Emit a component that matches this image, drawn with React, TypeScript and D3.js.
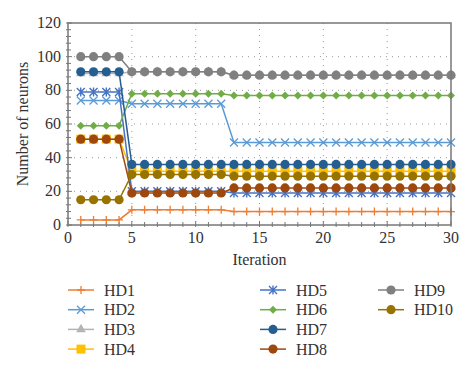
import * as d3 from "d3";

const ITERATIONS = d3.range(1, 31);

const HD1 = [3, 3, 3, 3, 9, 9, 9, 9, 9, 9, 9, 9, 8, 8, 8, 8, 8, 8, 8, 8, 8, 8, 8, 8, 8, 8, 8, 8, 8, 8];
const HD2 = [74, 74, 74, 74, 72, 72, 72, 72, 72, 72, 72, 72, 49, 49, 49, 49, 49, 49, 49, 49, 49, 49, 49, 49, 49, 49, 49, 49, 49, 49];
const HD3 = [90, 90, 90, 90, 91, 91, 91, 91, 91, 91, 91, 91, 89, 89, 89, 89, 89, 89, 89, 89, 89, 89, 89, 89, 89, 89, 89, 89, 89, 89];
const HD4 = [51, 51, 51, 51, 32, 32, 32, 32, 32, 32, 32, 32, 32, 32, 32, 32, 32, 32, 32, 32, 32, 32, 32, 32, 32, 32, 32, 32, 32, 32];
const HD5 = [79, 79, 79, 79, 20, 20, 20, 20, 20, 20, 20, 20, 19, 19, 19, 19, 19, 19, 19, 19, 19, 19, 19, 19, 19, 19, 19, 19, 19, 19];
const HD6 = [59, 59, 59, 59, 78, 78, 78, 78, 78, 78, 78, 78, 77, 77, 77, 77, 77, 77, 77, 77, 77, 77, 77, 77, 77, 77, 77, 77, 77, 77];
const HD7 = [91, 91, 91, 91, 36, 36, 36, 36, 36, 36, 36, 36, 36, 36, 36, 36, 36, 36, 36, 36, 36, 36, 36, 36, 36, 36, 36, 36, 36, 36];
const HD8 = [51, 51, 51, 51, 19, 19, 19, 19, 19, 19, 19, 19, 22, 22, 22, 22, 22, 22, 22, 22, 22, 22, 22, 22, 22, 22, 22, 22, 22, 22];
const HD9 = [100, 100, 100, 100, 91, 91, 91, 91, 91, 91, 91, 91, 89, 89, 89, 89, 89, 89, 89, 89, 89, 89, 89, 89, 89, 89, 89, 89, 89, 89];
const HD10 = [15, 15, 15, 15, 30, 30, 30, 30, 30, 30, 30, 30, 29, 29, 29, 29, 29, 29, 29, 29, 29, 29, 29, 29, 29, 29, 29, 29, 29, 29];

const X_TICKS = [0, 5, 10, 15, 20, 25, 30];
const Y_TICKS = [0, 20, 40, 60, 80, 100, 120];

type Marker = "plus" | "x" | "triangle" | "square" | "star" | "diamond" | "circle";

const SERIES: { name: string; values: number[]; color: string; marker: Marker }[] = [
  { name: "HD1", values: HD1, color: "#ED7D31", marker: "plus" },
  { name: "HD2", values: HD2, color: "#5B9BD5", marker: "x" },
  { name: "HD3", values: HD3, color: "#B4B4B4", marker: "triangle" },
  { name: "HD4", values: HD4, color: "#FFC000", marker: "square" },
  { name: "HD5", values: HD5, color: "#4472C4", marker: "star" },
  { name: "HD6", values: HD6, color: "#70AD47", marker: "diamond" },
  { name: "HD7", values: HD7, color: "#255E91", marker: "circle" },
  { name: "HD8", values: HD8, color: "#9E480E", marker: "circle" },
  { name: "HD9", values: HD9, color: "#808080", marker: "circle" },
  { name: "HD10", values: HD10, color: "#997300", marker: "circle" },
];

const W = 474;
const H = 371;
const M = { left: 68, right: 451, top: 23, bottom: 225 };
const FONT = "'Liberation Serif', 'Times New Roman', serif";
const AXIS = "#777";

function MarkerShape({ type, color, x, y }: { type: Marker; color: string; x: number; y: number }) {
  const t = `translate(${x},${y})`;
  switch (type) {
    case "plus":
      return <path transform={t} d="M-4,0H4M0,-4V4" stroke={color} strokeWidth={1.3} />;
    case "x":
      return <path transform={t} d="M-4,-4L4,4M-4,4L4,-4" stroke={color} strokeWidth={1.3} />;
    case "star":
      return <path transform={t} d="M-4,-4L4,4M-4,4L4,-4M0,-4.5V4.5" stroke={color} strokeWidth={1.4} />;
    case "triangle":
      return <path transform={t} d={d3.symbol(d3.symbolTriangle, 40)() ?? ""} fill={color} />;
    case "square":
      return <rect x={x - 4.5} y={y - 4.5} width={9} height={9} fill={color} />;
    case "diamond":
      return <path transform={t} d="M0,-4L4,0L0,4L-4,0Z" fill={color} />;
    default:
      return <circle cx={x} cy={y} r={4.6} fill={color} />;
  }
}

export default function App() {
  const x = d3.scaleLinear().domain([0, 30]).range([M.left, M.right]);
  const y = d3.scaleLinear().domain([0, 120]).range([M.bottom, M.top]);
  const line = d3
    .line<number>()
    .x((_, i) => x(ITERATIONS[i]))
    .y((d) => y(d));

  const xMinor = d3.range(0, 31, 1);
  const yMinor = d3.range(0, 121, 4);

  const legendCols = [68, 260, 378];

  return (
    <svg width={W} height={H} style={{ position: "absolute", left: 0, top: 0, background: "#fff" }}>
      {/* grid */}
      {X_TICKS.slice(1, -1).map((t) => (
        <line key={`gx${t}`} x1={x(t)} x2={x(t)} y1={M.top} y2={M.bottom} stroke="#999" strokeWidth={1} strokeDasharray="1,5" />
      ))}
      {Y_TICKS.slice(1, -1).map((t) => (
        <line key={`gy${t}`} x1={M.left} x2={M.right} y1={y(t)} y2={y(t)} stroke="#999" strokeWidth={1} strokeDasharray="1,5" />
      ))}

      {/* minor ticks, crossing the axis lines */}
      {xMinor.map((t) => (
        <line key={`mx${t}`} x1={x(t)} x2={x(t)} y1={M.bottom + 2} y2={M.bottom - (t % 5 === 0 ? 4 : 3)} stroke={AXIS} />
      ))}
      {yMinor.map((t) => (
        <line key={`my${t}`} x1={M.left - 2} x2={M.left + (t % 20 === 0 ? 4 : 3)} y1={y(t)} y2={y(t)} stroke={AXIS} />
      ))}

      {/* series */}
      {SERIES.map((s) => (
        <g key={s.name}>
          <path d={line(s.values) ?? ""} fill="none" stroke={s.color} strokeWidth={1.5} />
          {s.values.map((v, i) => (
            <MarkerShape key={i} type={s.marker} color={s.color} x={x(ITERATIONS[i])} y={y(v)} />
          ))}
        </g>
      ))}

      {/* frame */}
      <rect x={M.left} y={M.top} width={M.right - M.left} height={M.bottom - M.top} fill="none" stroke={AXIS} strokeWidth={1.5} />

      {/* tick labels */}
      {X_TICKS.map((t) => (
        <text key={`tx${t}`} x={x(t)} y={243} textAnchor="middle" fontFamily={FONT} fontSize={16} fill="#333">
          {t}
        </text>
      ))}
      {Y_TICKS.map((t) => (
        <text key={`ty${t}`} x={61} y={y(t) + 5} textAnchor="end" fontFamily={FONT} fontSize={16} fill="#333">
          {t}
        </text>
      ))}

      <text x={(M.left + M.right) / 2} y={265} textAnchor="middle" fontFamily={FONT} fontSize={16} fill="#333">
        Iteration
      </text>
      <text
        transform={`translate(28,${(M.top + M.bottom) / 2}) rotate(-90)`}
        textAnchor="middle"
        fontFamily={FONT}
        fontSize={16}
        fill="#333"
      >
        Number of neurons
      </text>

      {/* legend */}
      {SERIES.map((s, i) => {
        const col = i < 4 ? 0 : i < 8 ? 1 : 2;
        const row = i < 4 ? i : i < 8 ? i - 4 : i - 8;
        const lx = legendCols[col];
        const ly = 290 + row * 19.7;
        return (
          <g key={`lg${s.name}`}>
            <line x1={lx} x2={lx + 26} y1={ly} y2={ly} stroke={s.color} strokeWidth={1.5} />
            <MarkerShape type={s.marker} color={s.color} x={lx + 13} y={ly} />
            <text x={lx + 36} y={ly + 5.5} fontFamily={FONT} fontSize={16} fill="#333">
              {s.name}
            </text>
          </g>
        );
      })}
    </svg>
  );
}
